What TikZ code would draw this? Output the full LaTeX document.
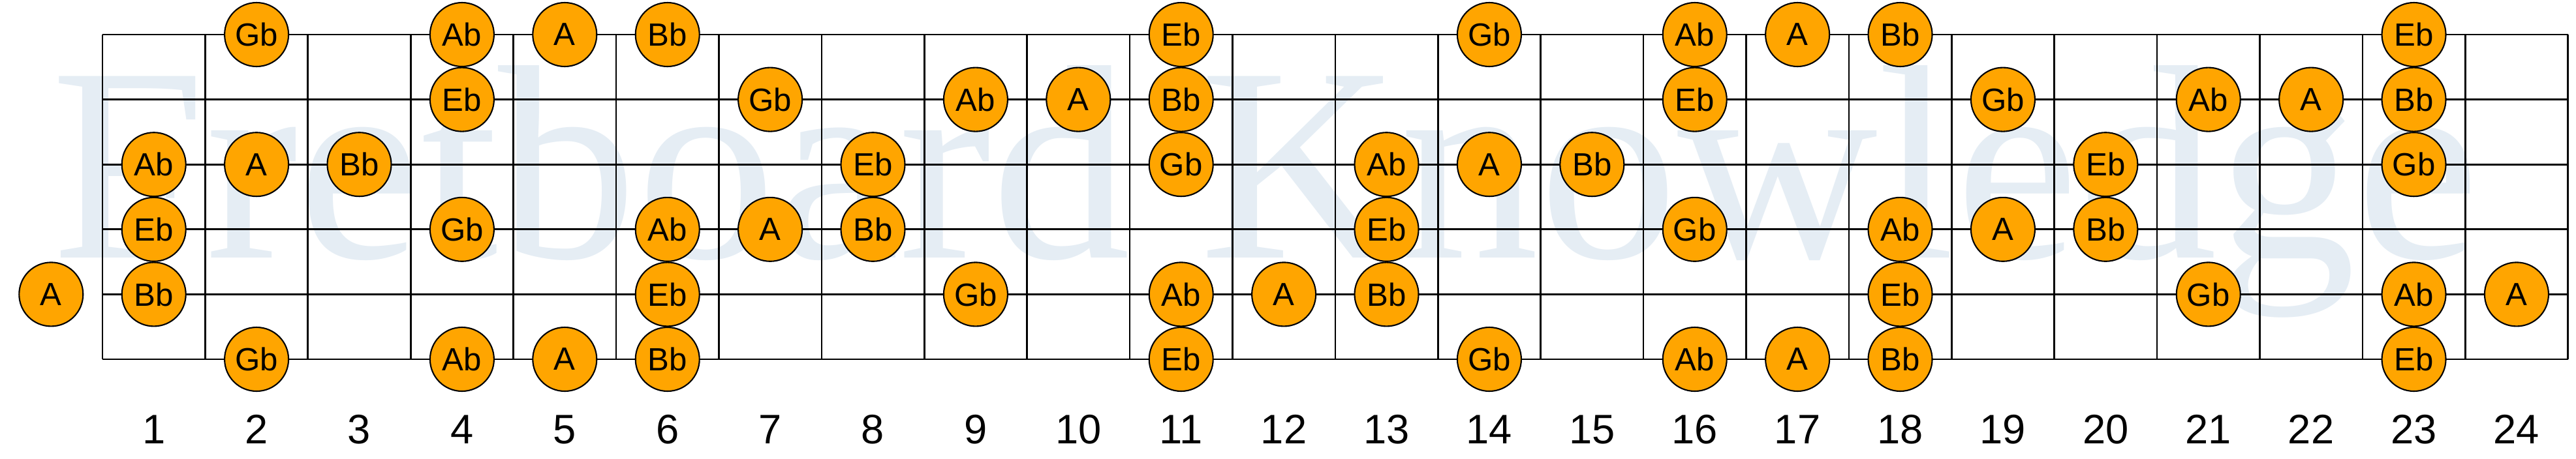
\documentclass[tikz,border=0pt]{standalone}
\usepackage{fontspec}
\setmainfont{Liberation Sans}
\newfontfamily\markfont{Liberation Serif}
\usepackage{xcolor}
\definecolor{noteorange}{RGB}{255, 165, 0}
\definecolor{markblue}{RGB}{229, 237, 244}
\usetikzlibrary{positioning}

\tikzset{
  fretline/.style={line width=0.75pt, draw=black},
  note/.style={circle, draw=black, line width=0.6pt, fill=noteorange, minimum size=0.98cm, inner sep=0pt, font=\fontsize{14}{14}\selectfont},
  fretnum/.style={anchor=base, inner sep=0pt, font=\fontsize{18}{18}\selectfont}
}

\begin{document}
\begin{tikzpicture}
    \useasboundingbox (0,0) rectangle (39.47,7.03);
    \node [anchor=base west, inner sep=0pt, text=markblue, font=\markfont\fontsize{121}{121}\selectfont] (mark) at (0.78,3.08) {Fretboard Knowledge};

    \foreach \s in {0,...,5}
        \draw [fretline] (1.57,{6.50-\s*0.996}) -- (39.35,{6.50-\s*0.996});
    \foreach \f in {0,...,24}
        \draw [fretline] ({1.57+\f*1.574},6.50) -- ({1.57+\f*1.574},1.52);

    \foreach \f in {1,...,24}
        \node [fretnum] (num\f) at ({1.57+(\f-0.5)*1.574},0.23) {\f};

    \foreach \s/\f/\n in {1/2/Gb, 1/4/Ab, 1/5/A, 1/6/Bb, 1/11/Eb, 1/14/Gb, 1/16/Ab, 1/17/A, 1/18/Bb, 1/23/Eb,
                          2/4/Eb, 2/7/Gb, 2/9/Ab, 2/10/A, 2/11/Bb, 2/16/Eb, 2/19/Gb, 2/21/Ab, 2/22/A, 2/23/Bb,
                          3/1/Ab, 3/2/A, 3/3/Bb, 3/8/Eb, 3/11/Gb, 3/13/Ab, 3/14/A, 3/15/Bb, 3/20/Eb, 3/23/Gb,
                          4/1/Eb, 4/4/Gb, 4/6/Ab, 4/7/A, 4/8/Bb, 4/13/Eb, 4/16/Gb, 4/18/Ab, 4/19/A, 4/20/Bb,
                          5/0/A, 5/1/Bb, 5/6/Eb, 5/9/Gb, 5/11/Ab, 5/12/A, 5/13/Bb, 5/18/Eb, 5/21/Gb, 5/23/Ab, 5/24/A,
                          6/2/Gb, 6/4/Ab, 6/5/A, 6/6/Bb, 6/11/Eb, 6/14/Gb, 6/16/Ab, 6/17/A, 6/18/Bb, 6/23/Eb}
        \node [note] (n\s-\f) at ({1.57+(\f-0.5)*1.574},{6.50-(\s-1)*0.996}) {\n};
\end{tikzpicture}
\end{document}
